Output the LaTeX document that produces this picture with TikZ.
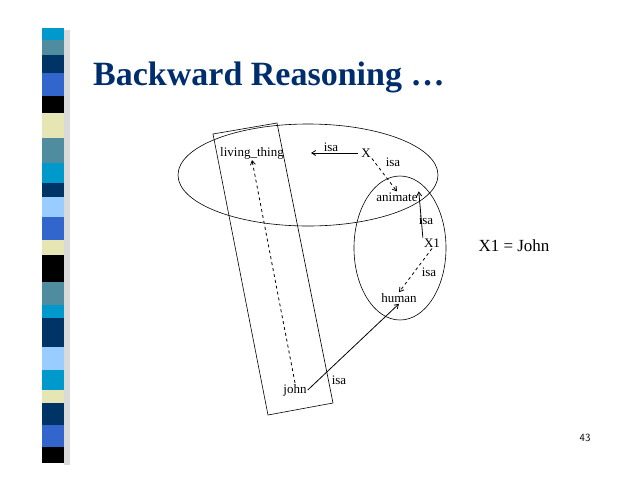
\documentclass[tikz,border=0pt]{standalone}
\usepackage{fontspec}
\setmainfont{Liberation Serif}
\usetikzlibrary{arrows.meta}
\definecolor{cy}{RGB}{0,153,204}
\definecolor{st}{RGB}{80,140,160}
\definecolor{nv}{RGB}{0,51,102}
\definecolor{rb}{RGB}{51,102,204}
\definecolor{be}{RGB}{230,230,180}
\definecolor{lb}{RGB}{153,204,255}
\definecolor{ttl}{RGB}{0,45,110}
\begin{document}
\begin{tikzpicture}[x=1pt,y=-1pt,
  lab/.style={font=\fontsize{13}{13}\selectfont,inner sep=1pt},
  arr/.style={-{Straight Barb[length=4pt,width=5pt]},line width=0.8pt},
  dsh/.style={arr,dashed}]
\useasboundingbox (0,0) rectangle (638,493);
% stripe bar
\fill[gray!30] (64,30) rectangle (70,465);
\foreach \a/\b/\c in {28/40/cy,40/55/st,55/73/nv,73/96/rb,96/113/black,113/138/be,138/163/st,163/183/cy,183/197/nv,197/217/lb,217/240/rb,240/255/be,255/282/black,282/305/st,305/318/cy,318/347/nv,347/370/lb,370/390/cy,390/403/be,403/425/nv,425/447/rb,447/463/black}
  \fill[\c] (42,\a) rectangle (64,\b);
\node[anchor=base west,font=\fontsize{34}{34}\selectfont\bfseries,text=ttl,inner sep=0] (title) at (93,85) {Backward Reasoning …};
% shapes
\draw[line width=0.6pt] (308,175) ellipse [x radius=130, y radius=51];
\draw[line width=0.6pt] (400,248) ellipse [x radius=46, y radius=72];
\draw[line width=0.6pt] (213,134) -- (277,123) -- (333,403) -- (268,415) -- cycle;
% nodes
\node[lab] (lt) at (252,153) {living\_thing};
\node[lab] (X) at (366,153) {X};
\node[lab] (an) at (397,197) {animate};
\node[lab] (X1) at (432,243) {X1};
\node[lab] (hu) at (399,298) {human};
\node[lab] (jo) at (295,390) {john};
\node[lab] at (331,147) {isa};
\node[lab] at (393,162) {isa};
\node[lab] at (426,220) {isa};
\node[lab] at (429,272) {isa};
\node[lab] at (339,380) {isa};
\node[font=\fontsize{17}{17}\selectfont] (eq) at (514,246) {X1 = John};
\node[font=\fontsize{11}{11}\selectfont\sffamily] (pg) at (585,438) {43};
% edges
\draw[arr] (X.west) ++(-2,0) -- (311,153);
\draw[dsh] (X.south east) -- (an.north);
\draw[arr] (X1.north west) -- (an.north east);
\draw[dsh] (X1.south) -- (hu.north);
\draw[arr] (jo.east) -- (hu.south);
\draw[dsh] (jo.north) -- (lt.south);
\end{tikzpicture}
\end{document}
